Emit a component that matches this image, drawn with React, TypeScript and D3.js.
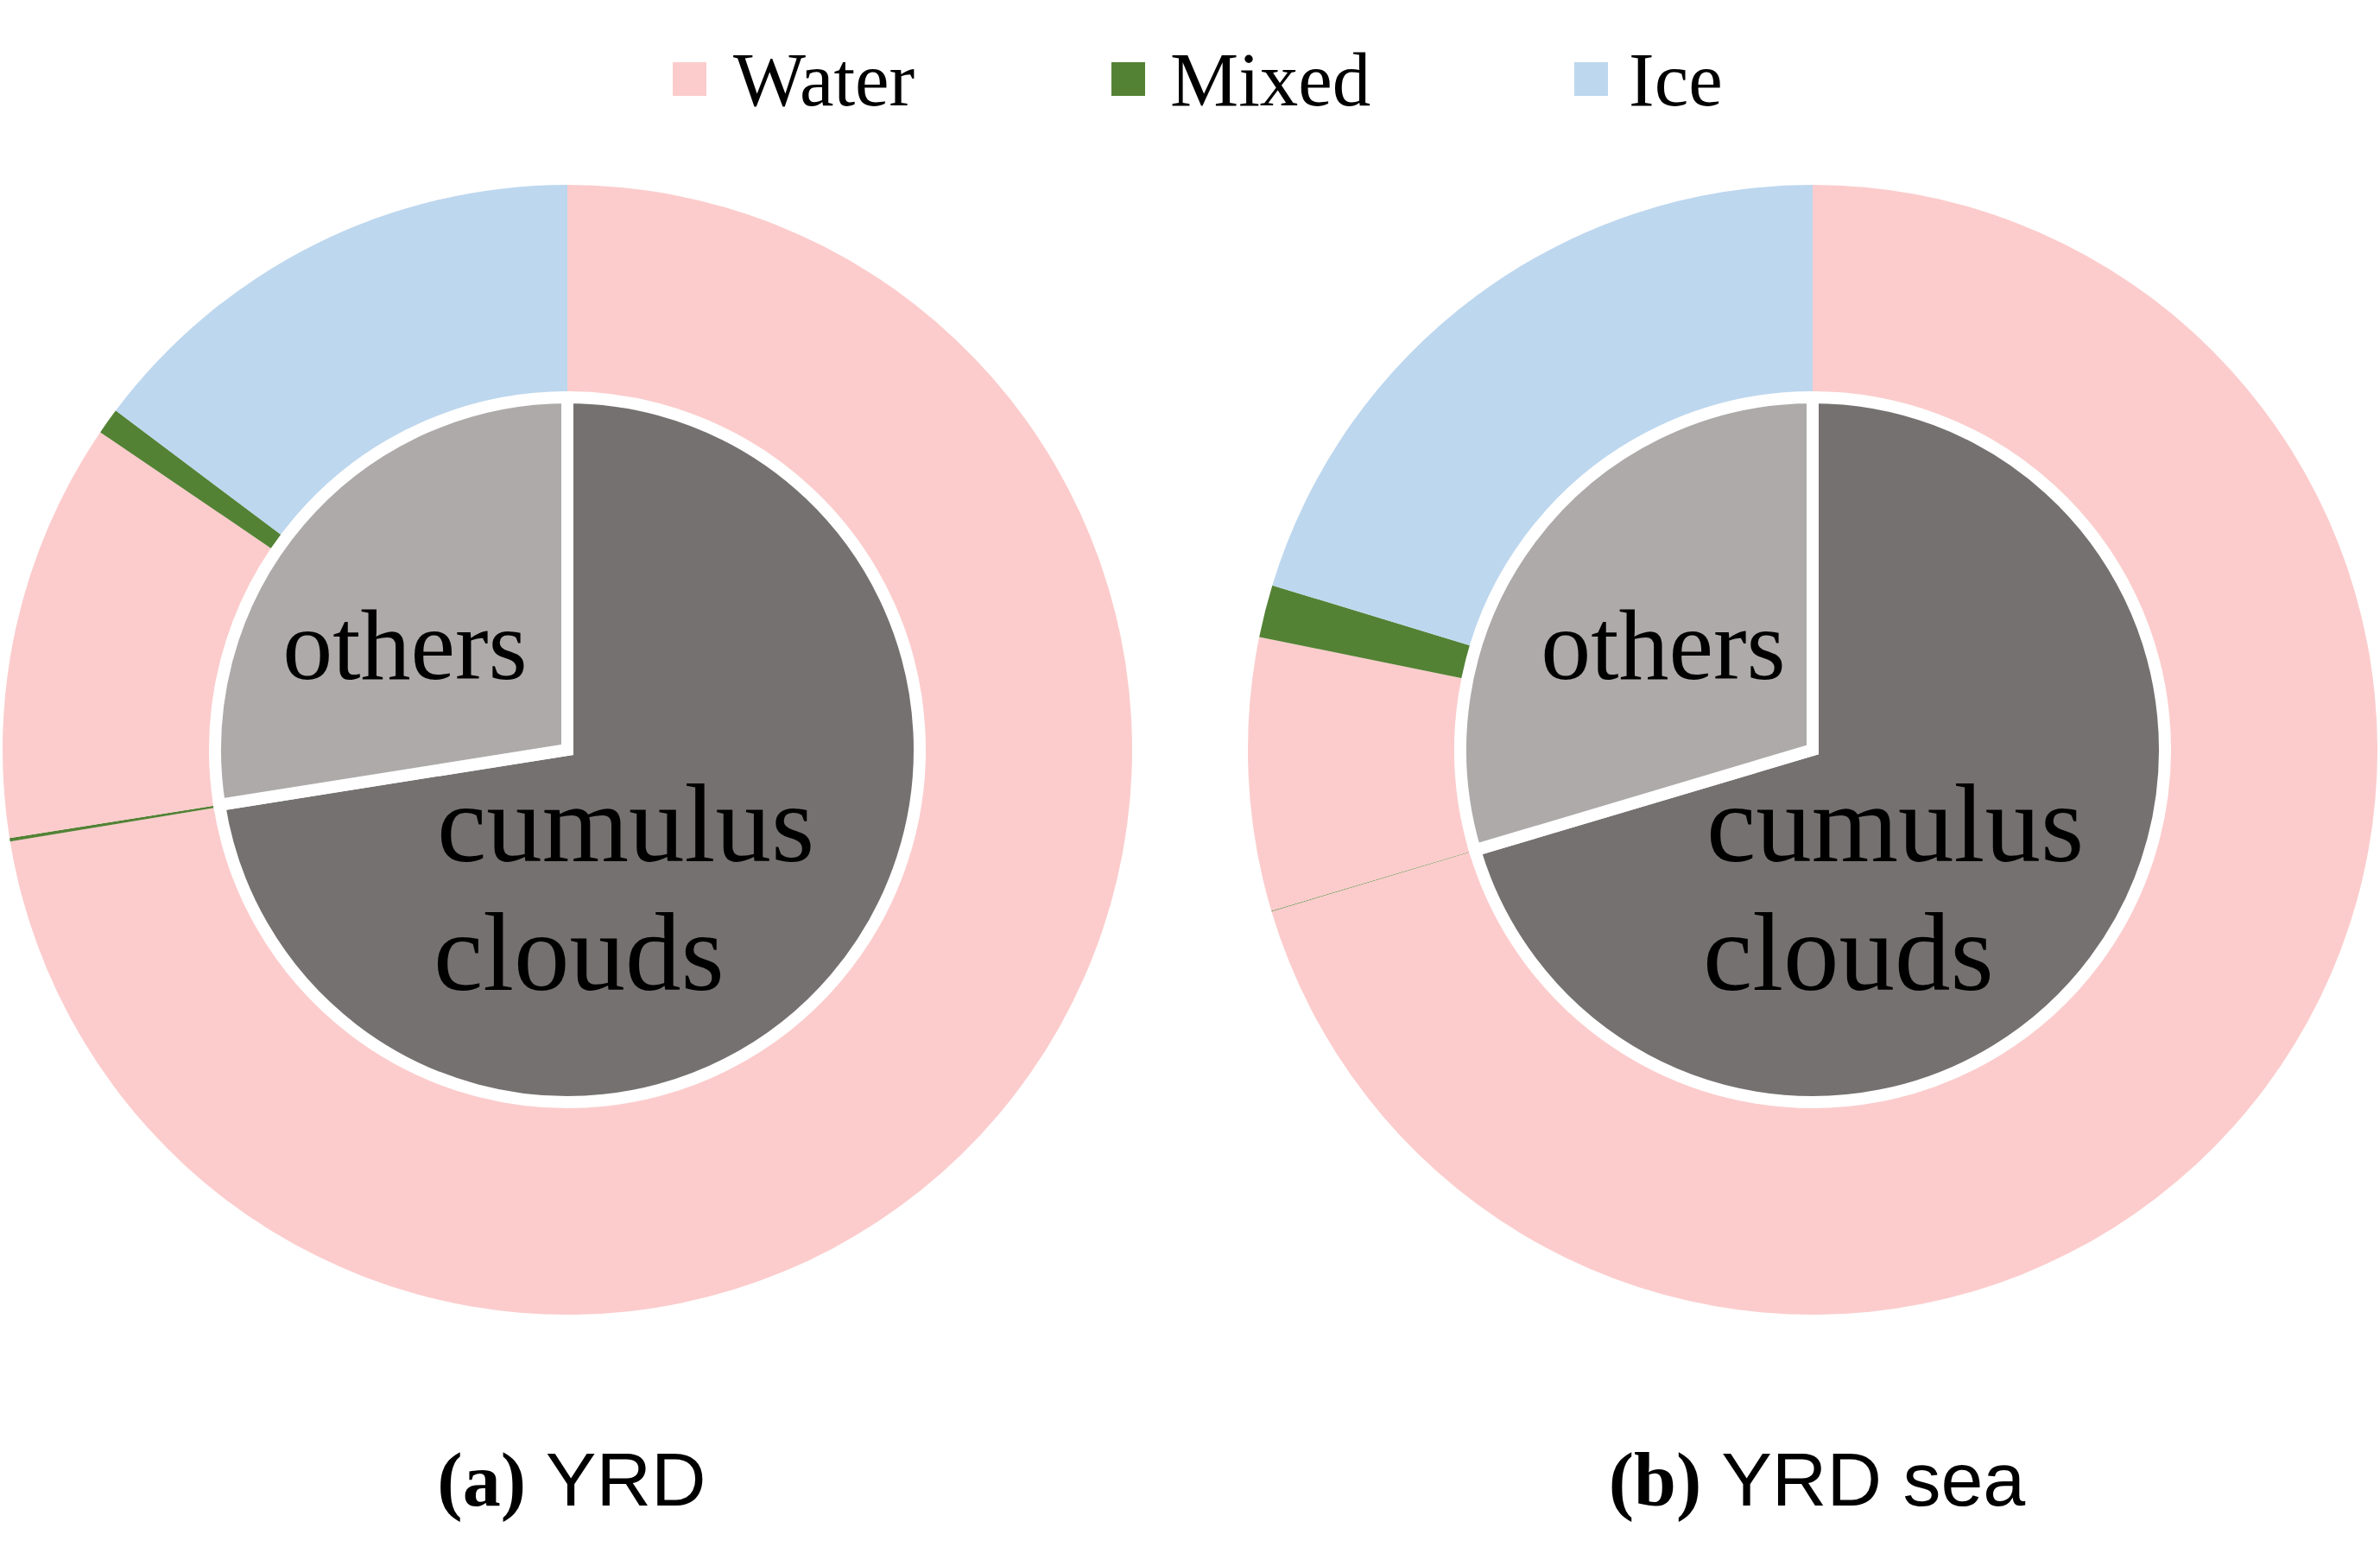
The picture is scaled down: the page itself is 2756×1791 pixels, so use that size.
import React from 'react';
import * as d3 from 'd3';

const W = 2756;
const H = 1791;

// ---- data ----
const ringCategories = ['Water', 'Mixed', 'Ice'];
const ringColors = ['#FCCCCC', '#548235', '#BDD7EE'];
const pieCategories = ['cumulus', 'others'];
const pieColors = ['#767171', '#AEAAAA'];
const panelTags = ['(a)', '(b)'];
const panelNames = ['YRD', 'YRD sea'];
// inner pie (% of clouds): cumulus, others
const pieYRD = [72.5, 27.5];
const pieYRDsea = [70.4, 29.6];
// outer ring: cumulus Water, Mixed, Ice, others Water, Mixed, Ice
const ringYRD = [72.4, 0.1, 0, 12.0, 0.75, 14.75];
const ringYRDsea = [70.38, 0.02, 0, 7.8, 1.5, 20.3];

// ---- layout ----
const panels = [
  { cx: 657, pie: pieYRD, ring: ringYRD, othersDx: -188, cuDx: -151 },
  { cx: 2099, pie: pieYRDsea, ring: ringYRDsea, othersDx: -173, cuDx: -123 },
];
const CY = 868;
const R_OUT = 654;
const R_PIE = 408;
const PIE_STROKE = 14;

const serif = '"Liberation Serif", "Times New Roman", serif';
const sans = '"Liberation Sans", Arial, sans-serif';

export default function App() {
  const pieGen = d3.pie<number>().sort(null).value((d) => d);
  const ringArc = d3.arc<d3.PieArcDatum<number>>().innerRadius(R_PIE).outerRadius(R_OUT);
  const pieArc = d3.arc<d3.PieArcDatum<number>>().innerRadius(0).outerRadius(R_PIE);

  const legendX = [779, 1287, 1823];
  const legendTextDx = [70, 68, 63];

  return (
    <div style={{ position: 'absolute', left: 0, top: 0 }}>
      <svg width={W} height={H} viewBox={`0 0 ${W} ${H}`} style={{ display: 'block', background: '#fff' }}>
        <rect x={0} y={0} width={W} height={H} fill="#fff" />
        {/* legend */}
        {ringCategories.map((c, i) => (
          <g key={c}>
            <rect x={legendX[i]} y={72} width={39} height={39} fill={ringColors[i]} />
            <text x={legendX[i] + legendTextDx[i]} y={122} fontFamily={serif} fontSize={89} fill="#000">
              {c}
            </text>
          </g>
        ))}
        {panels.map((p, pi) => {
          const ringArcs = pieGen(p.ring);
          const pieArcs = pieGen(p.pie);
          return (
            <g key={pi}>
              <g transform={`translate(${p.cx},${CY})`}>
                {ringArcs.map((a, i) => (
                  <path key={i} d={ringArc(a) || ''} fill={ringColors[i % 3]} />
                ))}
                {pieArcs.map((a, i) => (
                  <path
                    key={i}
                    d={pieArc(a) || ''}
                    fill={pieColors[i]}
                    stroke="#fff"
                    strokeWidth={PIE_STROKE}
                  />
                ))}
              </g>
              <text x={p.cx + p.othersDx} y={786} textAnchor="middle" fontFamily={serif} fontSize={116} fill="#000">
                {pieCategories[1]}
              </text>
              <text x={p.cx + p.cuDx} y={997} fontFamily={serif} fontSize={129} fill="#000">
                {pieCategories[0]}
              </text>
              <text x={p.cx + p.cuDx - 4} y={1146} fontFamily={serif} fontSize={129} fill="#000">
                clouds
              </text>
              <text x={p.cx + 5} y={1743} textAnchor="middle" fontSize={88} fill="#000">
                <tspan fontFamily={serif} fontWeight="bold">{panelTags[pi]}</tspan>
                <tspan fontFamily={sans}> {panelNames[pi]}</tspan>
              </text>
            </g>
          );
        })}
      </svg>
    </div>
  );
}
